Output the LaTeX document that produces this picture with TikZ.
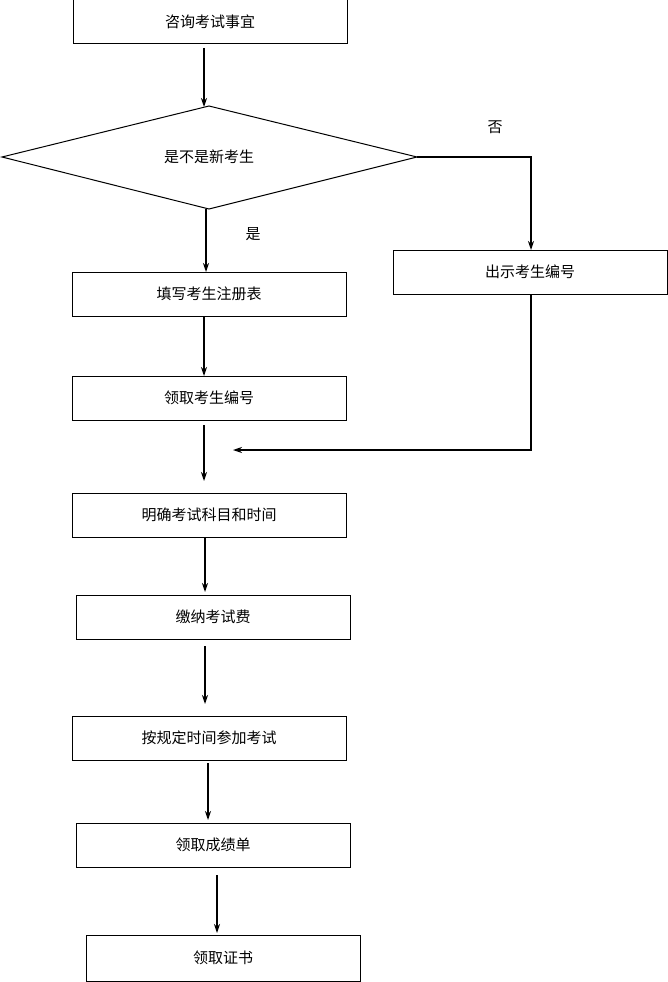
\documentclass[tikz,border=0pt]{standalone}
\usepackage{fontspec}
\setmainfont{Noto Sans CJK SC}
\usetikzlibrary{arrows.meta,shapes.geometric}
\begin{document}
\begin{tikzpicture}[x=1pt,y=-1pt,
  box/.style={draw,line width=1pt,minimum width=274pt,minimum height=44pt,inner sep=0pt,font=\fontsize{15}{17}\selectfont},
  lbl/.style={font=\fontsize{15}{17}\selectfont},
  arr/.style={line width=1.2pt,-{Stealth[length=9pt,width=6pt]}},
  ln/.style={line width=1.2pt}]
\useasboundingbox (0,0) rectangle (667,982);
\node[box] (b1) at (210,22) {咨询考试事宜};
\draw[line width=1pt] (2,157) -- (209,106) -- (417,157) -- (209,209) -- cycle;
\node[lbl] (d) at (209,157) {是不是新考生};
\coordinate (dt) at (204,107);
\coordinate (db) at (206,209);
\coordinate (dr) at (417,157);
\node[box] (b3) at (209,294) {填写考生注册表};
\node[box] (b2) at (530,272) {出示考生编号};
\node[box] (b4) at (209,398) {领取考生编号};
\node[box] (b5) at (209,515) {明确考试科目和时间};
\node[box] (b6) at (213,617) {缴纳考试费};
\node[box] (b7) at (209,738) {按规定时间参加考试};
\node[box] (b8) at (213,845) {领取成绩单};
\node[box,minimum height=46pt] (b9) at (223,958) {领取证书};
\node[lbl] (y) at (253,234) {是};
\node[lbl] (n) at (495,127) {否};
\coordinate (c1) at (204,48);
\draw[arr] (c1) -- (dt);
\draw[arr] (db) -- (206,272);
\coordinate (rc) at (531,157);
\draw[arr] (dr) -- (rc) -- (531,250);
\coordinate (c2) at (531,450);
\draw[arr] (531,295) -- (c2) -- (233,450);
\draw[arr] (204,316) -- (204,376);
\draw[arr] (204,425) -- (204,481);
\draw[arr] (205,538) -- (205,592);
\draw[arr] (205,646) -- (205,704);
\draw[arr] (208,763) -- (208,820);
\draw[arr] (217,875) -- (217,933);
\end{tikzpicture}
\end{document}
